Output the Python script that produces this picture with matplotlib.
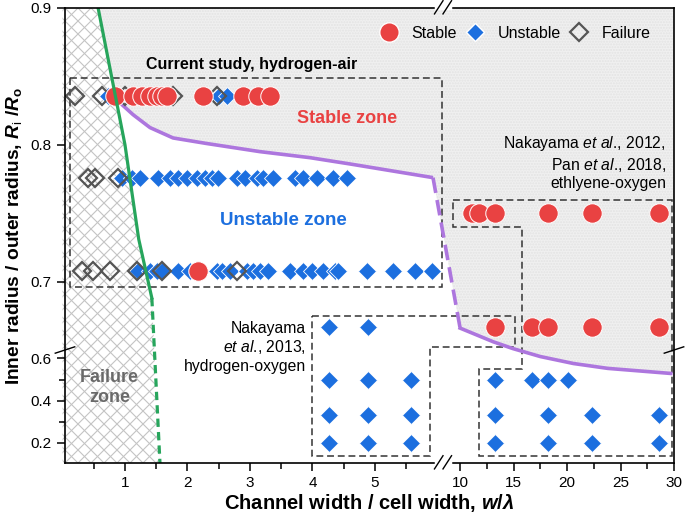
import numpy as np
import matplotlib
matplotlib.use("Agg")
import matplotlib.pyplot as plt
from matplotlib.patches import Polygon
from matplotlib.lines import Line2D
from matplotlib.collections import LineCollection

plt.rcParams["font.family"] = ["Liberation Sans", "DejaVu Sans"]
plt.rcParams["mathtext.fontset"] = "custom"
plt.rcParams["mathtext.rm"] = "Liberation Sans"
plt.rcParams["mathtext.it"] = "Liberation Sans:italic"
plt.rcParams["mathtext.bf"] = "Liberation Sans:bold"
plt.rcParams["mathtext.bfit"] = "Liberation Sans:italic:bold"

RED = "#e94242"
BLUE = "#1c6fdf"
GREY = "#555555"
PURPLE = "#ad76de"
GREEN = "#27a55c"

# ---- data (w/lambda, Ri/Ro) ----
# current study, hydrogen-air
top_y = 0.836
mid_y = 0.776
bot_y = 0.708
stable_top_x = [0.84, 1.13, 1.27, 1.4, 1.51, 1.59, 1.67, 2.25, 2.89, 3.13, 3.32]
unstable_top_x = [0.73, 2.5, 2.64]
failure_top_x = [0.2, 0.63, 1.0, 1.77, 2.47]

unstable_mid_x = [0.95, 1.11, 1.24, 1.53, 1.72, 1.85, 1.99, 2.15, 2.28, 2.39, 2.49,
                  2.79, 2.92, 3.11, 3.21, 3.37, 3.72, 3.85, 4.07, 4.33, 4.55]
failure_mid_x = [0.41, 0.52, 0.89]

stable_bot_x = [2.17]
unstable_bot_x = [1.21, 1.4, 1.51, 1.6, 1.85, 2.04, 2.47, 2.55, 2.68, 2.95, 3.05, 3.16,
                  3.29, 3.64, 3.85, 4.0, 4.17, 4.36, 4.41, 4.87, 5.29, 5.64, 5.91]
failure_bot_x = [0.31, 0.49, 0.76, 1.2, 1.59, 2.8]

# Nakayama 2012 / Pan 2018, ethylene-oxygen
eth_stable_x = [11.1, 11.8, 13.3, 18.2, 22.3, 28.6, 16.7, 18.2, 22.3, 28.6]
eth_stable_y = [0.75, 0.75, 0.75, 0.75, 0.75, 0.75, 0.667, 0.667, 0.667, 0.667]
eth_unstable_x = [13.3, 16.7, 18.2, 20.1, 13.3, 18.2, 22.3, 28.6, 13.3, 18.2, 22.3, 28.6]
eth_unstable_y = [0.5, 0.5, 0.5, 0.5, 0.333, 0.333, 0.333, 0.333, 0.2, 0.2, 0.2, 0.2]

# Nakayama 2013, hydrogen-oxygen
h2o2_stable_x = [13.3]
h2o2_stable_y = [0.667]
h2o2_unstable_x = [4.26, 4.89, 4.26, 4.89, 5.58, 4.26, 4.89, 5.58, 4.26, 4.89, 5.58]
h2o2_unstable_y = [0.667, 0.667, 0.5, 0.5, 0.5, 0.333, 0.333, 0.333, 0.2, 0.2, 0.2]

# boundaries
green_x = [0.57, 1.0, 1.22, 1.43]
green_y = [0.9, 0.8, 0.731, 0.688]
green_dash_x = [1.43, 1.56]
green_dash_y = [0.688, 0.105]
purple1_x = [0.84, 1.13, 1.4, 1.77, 2.3, 3.16, 3.96, 4.6, 5.93]
purple1_y = [0.834, 0.822, 0.8126, 0.805, 0.801, 0.795, 0.7906, 0.786, 0.776]
purple_dash_x = [5.93, 10.0]
purple_dash_y = [0.776, 0.666]
purple2_x = [10.0, 13.1, 14.95, 17.5, 20.6, 23.8, 29.7]
purple2_y = [0.666, 0.656, 0.651, 0.609, 0.576, 0.553, 0.529]

# dataset boxes
box_current = [(0.12, 0.849), (6.08, 0.849), (6.08, 0.6963), (0.12, 0.6963)]
box_eth = [(9.35, 0.76), (29.8, 0.76), (29.8, 0.136), (11.78, 0.136), (11.78, 0.548),
           (15.8, 0.548), (15.8, 0.740), (9.35, 0.740)]
box_h2o2 = [(4.0, 0.675), (15.14, 0.675), (15.14, 0.652), (5.88, 0.652), (5.88, 0.136),
            (4.0, 0.136)]

# ---- broken axes as piecewise-linear scales ----
X_KNOTS = [0.04, 6.09, 8.4, 30.0]
X_POS = [0.0, 378.0, 378.001, 609.0]
Y_KNOTS = [0.105, 0.64, 0.65, 0.9]
Y_POS = [0.0, 113.0, 113.001, 455.0]


def piecewise(v, xs, ps):
    v = np.asarray(v, dtype=float)
    out = np.interp(v, xs, ps)
    s0 = (ps[1] - ps[0]) / (xs[1] - xs[0])
    s1 = (ps[-1] - ps[-2]) / (xs[-1] - xs[-2])
    out = np.where(v < xs[0], ps[0] + (v - xs[0]) * s0, out)
    out = np.where(v > xs[-1], ps[-1] + (v - xs[-1]) * s1, out)
    return out


fig = plt.figure(figsize=(6.85, 5.15), dpi=100)
ax = fig.add_axes([65 / 685, 52 / 515, 609 / 685, 455 / 515])
ax.set_xscale("function", functions=(lambda v: piecewise(v, X_KNOTS, X_POS),
                                     lambda p: piecewise(p, X_POS, X_KNOTS)))
ax.set_yscale("function", functions=(lambda v: piecewise(v, Y_KNOTS, Y_POS),
                                     lambda p: piecewise(p, Y_POS, Y_KNOTS)))
ax.set_xlim(X_KNOTS[0], X_KNOTS[-1])
ax.set_ylim(Y_KNOTS[0], Y_KNOTS[-1])

# shaded zones
stable_poly = ([(green_x[0], 0.9), (30, 0.9), (30, purple2_y[-1])]
               + list(zip(purple2_x[::-1], purple2_y[::-1]))
               + list(zip(purple1_x[::-1], purple1_y[::-1])))
ax.add_patch(Polygon(stable_poly, closed=True, facecolor="#f0f0f0", edgecolor="#e3e3e3",
                     hatch="......", lw=0, zorder=0.5))
fail_poly = ([(0.0, 0.9)] + list(zip(green_x, green_y)) + [(green_dash_x[1], green_dash_y[1]),
                                                          (0.0, green_dash_y[1])])
fail_patch = Polygon(fail_poly, closed=True, facecolor="white", lw=0, zorder=0.6)
ax.add_patch(fail_patch)

# cross hatch of the failure zone (drawn in pixel spacing, clipped to the zone)
W, H, step = 609.0, 455.0, 13.0
segs = []
for c in np.arange(-H, W, step):
    segs.append([(c / W, 0.0), ((c + H) / W, 1.0)])
for c in np.arange(0, W + H, step):
    segs.append([(c / W, 0.0), ((c - H) / W, 1.0)])
hatch = LineCollection(segs, transform=ax.transAxes, colors="#c4c4c4", linewidths=0.8,
                       zorder=0.7)
hatch.set_clip_path(fail_patch)
ax.add_collection(hatch)

# dataset boxes
for b in (box_current, box_eth, box_h2o2):
    ax.add_patch(Polygon(b, closed=True, fill=False, edgecolor="#333333", lw=1.1,
                         linestyle=(0, (4.5, 2.5)), zorder=1))

# boundary lines
ax.plot(purple1_x, purple1_y, color=PURPLE, lw=2.6, zorder=2, solid_capstyle="butt")
ax.plot(purple_dash_x, purple_dash_y, color=PURPLE, lw=2.6, ls=(0, (4.3, 2.0)), zorder=2)
ax.plot(purple2_x, purple2_y, color=PURPLE, lw=2.6, zorder=2)
ax.plot(green_x, green_y, color=GREEN, lw=2.3, zorder=6)
ax.plot(green_dash_x, green_dash_y, color=GREEN, lw=2.3, ls=(0, (2.6, 1.6)), zorder=6)

# markers
dkw = dict(marker="D", ms=9.4, ls="none", mfc=BLUE, mec="white", mew=0.6, zorder=3)
ckw = dict(marker="o", ms=14, ls="none", mfc=RED, mec="white", mew=0.7, zorder=5)
fkw = dict(marker="D", ms=9.4, ls="none", mfc="none", mec=GREY, mew=1.6, zorder=4)

ax.plot(unstable_top_x, [top_y] * len(unstable_top_x), **dkw)
ax.plot(unstable_mid_x, [mid_y] * len(unstable_mid_x), **dkw)
ax.plot(unstable_bot_x, [bot_y] * len(unstable_bot_x), **dkw)
ax.plot(eth_unstable_x, eth_unstable_y, **dkw)
ax.plot(h2o2_unstable_x, h2o2_unstable_y, **dkw)

ax.plot(failure_top_x, [top_y] * len(failure_top_x), **fkw)
ax.plot(failure_mid_x, [mid_y] * len(failure_mid_x), **fkw)
ax.plot(failure_bot_x, [bot_y] * len(failure_bot_x), **fkw)

ax.plot(stable_top_x, [top_y] * len(stable_top_x), **ckw)
ax.plot(stable_bot_x, [bot_y] * len(stable_bot_x), **ckw)
ax.plot(eth_stable_x, eth_stable_y, **ckw)
ax.plot(h2o2_stable_x, h2o2_stable_y, **ckw)

# texts
ax.text(3.03, 0.8586, "Current study, hydrogen-air", ha="center", va="center",
        fontsize=11.5, fontweight="bold", zorder=7)
ax.text(4.55, 0.819, "Stable zone", ha="center", va="center", fontsize=13,
        fontweight="bold", color=RED, zorder=7)
ax.text(3.53, 0.745, "Unstable zone", ha="center", va="center", fontsize=13.5,
        fontweight="bold", color=BLUE, zorder=7)
ax.text(0.75, 0.463, "Failure\nzone", ha="center", va="center", fontsize=13,
        fontweight="bold", color="#6a6a6a", linespacing=1.25, zorder=7)
ax.text(3.9, 0.652, "Nakayama\n$\\mathit{et\\ al}$., 2013,\nhydrogen-oxygen", ha="right",
        va="center", fontsize=11.3, linespacing=1.2, zorder=7)
ax.text(29.25, 0.787,
        "Nakayama $\\mathit{et\\ al}$., 2012,\nPan $\\mathit{et\\ al}$., 2018,\nethlyene-oxygen",
        ha="right", va="center", fontsize=11.3, linespacing=1.2, zorder=7)

# legend
handles = [Line2D([], [], marker="o", ms=14, ls="none", mfc=RED, mec="white"),
           Line2D([], [], marker="D", ms=9.4, ls="none", mfc=BLUE, mec="white"),
           Line2D([], [], marker="D", ms=9.4, ls="none", mfc="none", mec=GREY, mew=1.6)]
ax.legend(handles, ["Stable", "Unstable", "Failure"], ncol=3, frameon=False,
          loc="center right", bbox_to_anchor=(0.985, 0.945), fontsize=11.5,
          handletextpad=0.6, columnspacing=0.35, handlelength=1.6)

# ticks
ax.set_xticks([1, 2, 3, 4, 5, 10, 15, 20, 25, 30])
ax.set_xticklabels(["1", "2", "3", "4", "5", "10", "15", "20", "25", "30"])
ax.set_xticks([0.5, 1.5, 2.5, 3.5, 4.5, 5.5, 12.5, 17.5, 22.5, 27.5], minor=True)
ax.set_yticks([0.2, 0.4, 0.6, 0.7, 0.8, 0.9])
ax.set_yticklabels(["0.2", "0.4", "0.6", "0.7", "0.8", "0.9"])
ax.set_yticks([0.3, 0.5], minor=True)
ax.tick_params(which="both", direction="out", width=1.1, labelsize=11, top=False, right=False)
ax.tick_params(which="major", length=6)
ax.tick_params(which="minor", length=4)
for s in ax.spines.values():
    s.set_linewidth(1.2)
    s.set_zorder(8)

ax.set_xlabel("Channel width / cell width, $\\mathbfit{w}$/$\\mathbfit{\\lambda}$",
              fontsize=14.5, fontweight="bold", labelpad=1)
ax.set_ylabel("Inner radius / outer radius, $\\mathbfit{R}_\\mathrm{i}$ /$\\mathbfit{R}_\\mathbf{o}$",
              fontsize=13.8, fontweight="bold", labelpad=5)

# break marks
bx = (443 - 65) / 609
by = 1 - (350 - 8) / 455
tr = ax.transAxes
for yb in (0.0, 1.0):
    ax.plot([bx - 0.012, bx + 0.012], [yb, yb], color="white", lw=2.5, transform=tr,
            clip_on=False, zorder=9)
    for dx in (-0.008, 0.006):
        ax.plot([bx + dx - 0.006, bx + dx + 0.008], [yb - 0.013, yb + 0.016], color="black",
                lw=1.0, transform=tr, clip_on=False, zorder=10)
for xb in (0.0, 1.0):
    ax.plot([xb - 0.016, xb + 0.016], [by - 0.007, by + 0.007], color="black", lw=1.0,
            transform=tr, clip_on=False, zorder=10)

fig.savefig("out.png", dpi=100)
